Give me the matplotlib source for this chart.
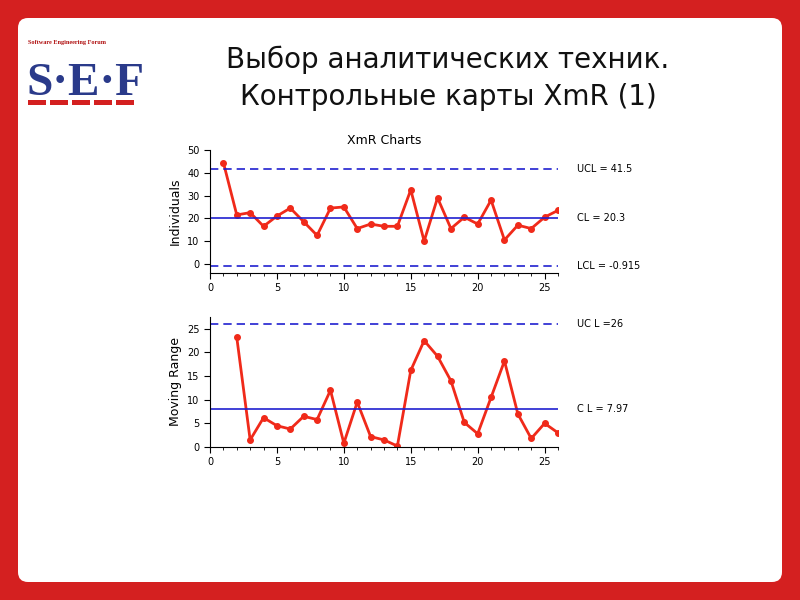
import matplotlib
matplotlib.use("Agg")
import matplotlib.pyplot as plt
from matplotlib.patches import FancyBboxPatch, Rectangle

x_ind = list(range(1, 27))
individuals = [44.5, 21.5, 22.5, 16.5, 21, 24.5, 18.5, 12.5, 24.5, 25, 15.5, 17.5, 16.5,
               16.5, 32.5, 10, 29, 15.5, 20.5, 17.5, 28, 10.5, 17, 15.5, 20.5, 23.5]
x_mr = list(range(2, 27))
moving_range = [23.2, 1.5, 6.2, 4.5, 3.8, 6.5, 5.8, 12, 0.8, 9.5, 2.2, 1.5, 0.2, 16.2,
                22.5, 19.2, 14, 5.2, 2.8, 10.5, 18.2, 7, 1.8, 5, 3]
ucl_i, cl_i, lcl_i = 41.5, 20.3, -0.915
ucl_mr, cl_mr = 26, 7.97

fig = plt.figure(figsize=(8, 6), dpi=100)
fig.patch.set_facecolor("#d42020")
bg = fig.add_axes([0, 0, 1, 1]); bg.axis("off"); bg.set_xlim(0, 800); bg.set_ylim(600, 0)
bg.add_patch(FancyBboxPatch((18, 18), 764, 564, boxstyle="round,pad=0,rounding_size=10",
                            fc="white", ec="none"))
bg.text(28, 44, "Software Engineering Forum", fontsize=4.5, color="#b01010", fontweight="bold",
        family="Liberation Serif")
bg.text(26, 84, "S·E·F", fontsize=34, color="#2a3a8a", fontweight="bold", family="Liberation Serif",
        va="center")
for i in range(5):
    bg.add_patch(Rectangle((28 + i*22, 100), 18, 5, fc="#d42020", ec="none"))
bg.text(448, 78, "Выбор аналитических техник.\nКонтрольные карты XmR (1)", fontsize=20,
        ha="center", va="center", linespacing=1.4, color="#111111")

red = "#f02a1a"; blue = "#2020d0"
ax1 = fig.add_axes([210/800, 1-273/600, 348/800, 123/600])
ax1.plot(x_ind, individuals, color=red, lw=2, marker="o", ms=4)
ax1.axhline(ucl_i, color=blue, ls="--", lw=1.2, dashes=(5, 3))
ax1.axhline(cl_i, color=blue, lw=1.2)
ax1.axhline(lcl_i, color=blue, ls="--", lw=1.2, dashes=(5, 3))
ax1.set_xlim(0, 26); ax1.set_ylim(-4, 50)
ax1.set_yticks([0, 10, 20, 30, 40, 50])
ax1.set_ylabel("Individuals", fontsize=9)
ax1.set_title("XmR Charts", fontsize=9, pad=4)
for v, t in [(ucl_i, "UCL = 41.5"), (cl_i, "CL = 20.3"), (lcl_i, "LCL = -0.915")]:
    ax1.text(27.4, v, t, fontsize=7, va="center")

ax2 = fig.add_axes([210/800, 1-447/600, 348/800, 130/600])
ax2.plot(x_mr, moving_range, color=red, lw=2, marker="o", ms=4)
ax2.axhline(ucl_mr, color=blue, ls="--", lw=1.2, dashes=(5, 3))
ax2.axhline(cl_mr, color=blue, lw=1.2)
ax2.set_xlim(0, 26); ax2.set_ylim(0, 27.5)
ax2.set_yticks([0, 5, 10, 15, 20, 25])
ax2.set_ylabel("Moving Range", fontsize=9)
for v, t in [(ucl_mr, "UC L =26"), (cl_mr, "C L = 7.97")]:
    ax2.text(27.4, v, t, fontsize=7, va="center")

for ax in (ax1, ax2):
    ax.spines["top"].set_visible(False); ax.spines["right"].set_visible(False)
    ax.set_xticks([0, 5, 10, 15, 20, 25])
    ax.set_xticks(range(0, 27), minor=True)
    ax.tick_params(labelsize=7, length=4)
    ax.tick_params(which="minor", length=2)

fig.savefig("out.png", dpi=100)
